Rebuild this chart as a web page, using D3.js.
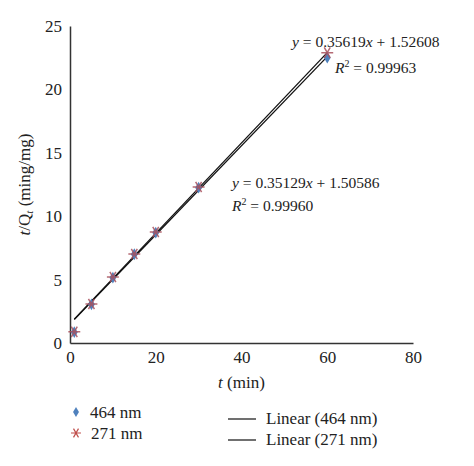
<!DOCTYPE html>
<html>
<head>
<meta charset="utf-8">
<script src="https://cdn.jsdelivr.net/npm/d3@7"></script>
<style>
  body { margin: 0; background: #fff; }
  text { font-family: "Liberation Serif", "DejaVu Serif", serif; fill: #222; }
</style>
</head>
<body>
<svg id="chart"></svg>
<script>
// data
const times = [1, 5, 10, 15, 20, 30, 60];
const nm464 = [0.85, 3.05, 5.15, 7.0, 8.7, 12.25, 22.5];
const nm271 = [0.88, 3.08, 5.2, 7.02, 8.75, 12.3, 22.9];

// linear fits as printed on the chart
const fit464 = {slope: 0.35619, intercept: 1.52608, r2: "0.99963"};
const fit271 = {slope: 0.35129, intercept: 1.50586, r2: "0.99960"};

const xTicks = [0, 20, 40, 60, 80];
const yTicks = [0, 5, 10, 15, 20, 25];

const width = 474, height = 466;
const margin = {top: 26, bottom: 123, left: 70, right: 61};

const svg = d3.select("#chart")
    .attr("width", width)
    .attr("height", height);

const x = d3.scaleLinear()
    .domain([0, 80])
    .range([margin.left, width - margin.right]);

const y = d3.scaleLinear()
    .domain([0, 25])
    .range([height - margin.bottom, margin.top]);

// axes
const xAxis = svg.append("g")
    .attr("transform", `translate(0,${height - margin.bottom})`)
    .call(d3.axisBottom(x).tickValues(xTicks).tickSize(0).tickPadding(8));
xAxis.select(".domain").attr("stroke", "#333").attr("stroke-width", 1.5);
xAxis.selectAll("text").style("font-size", "17px").attr("fill", "#222");

const yAxis = svg.append("g")
    .attr("transform", `translate(${margin.left},0)`)
    .call(d3.axisLeft(y).tickValues(yTicks).tickSize(0).tickPadding(8));
yAxis.select(".domain").attr("stroke", "#333").attr("stroke-width", 1.5);
yAxis.selectAll("text").style("font-size", "17px").attr("fill", "#222");

// axis titles
svg.append("text")
    .attr("x", x(40))
    .attr("y", 388)
    .attr("text-anchor", "middle")
    .style("font-size", "17px")
    .html('<tspan font-style="italic">t</tspan> (min)');

const yTitle = svg.append("text")
    .attr("transform", `translate(30,${y(12.5)}) rotate(-90)`)
    .attr("text-anchor", "middle")
    .style("font-size", "17px");
yTitle.append("tspan").attr("font-style", "italic").text("t");
yTitle.append("tspan").text("/Q");
yTitle.append("tspan").attr("font-style", "italic").attr("font-size", "11px").attr("dy", 3).text("t");
yTitle.append("tspan").attr("dy", -3).text(" (ming/mg)");

// trend lines over the data range
const tExtent = d3.extent(times);
const line = d3.line().x(d => x(d[0])).y(d => y(d[1]));
[fit464, fit271].forEach(f => {
    svg.append("path")
        .datum(tExtent.map(t => [t, f.slope * t + f.intercept]))
        .attr("d", line)
        .attr("fill", "none")
        .attr("stroke", "#111")
        .attr("stroke-width", 1.3);
});

// 464 nm diamonds
const diamond = d3.symbol().type(d3.symbolDiamond).size(40);
svg.selectAll(".d464")
    .data(times)
    .enter().append("path")
    .attr("class", "d464")
    .attr("transform", (d, i) => `translate(${x(d)},${y(nm464[i])})`)
    .attr("d", diamond)
    .attr("fill", "#4F81BD");

// 271 nm stars
const star = d3.symbol().type(d3.symbolAsterisk).size(100);
svg.selectAll(".d271")
    .data(times)
    .enter().append("path")
    .attr("class", "d271")
    .attr("transform", (d, i) => `translate(${x(d)},${y(nm271[i])}) rotate(30)`)
    .attr("d", star)
    .attr("fill", "none")
    .attr("stroke", "#A8505C")
    .attr("stroke-opacity", 0.85)
    .attr("stroke-width", 1.5);

// fit equations
function equation(f, xPos, yPos) {
    const t1 = svg.append("text").attr("x", xPos).attr("y", yPos).style("font-size", "15.5px");
    t1.append("tspan").attr("font-style", "italic").text("y");
    t1.append("tspan").text(` = ${f.slope.toFixed(5)}`);
    t1.append("tspan").attr("font-style", "italic").text("x");
    t1.append("tspan").text(` + ${f.intercept.toFixed(5)}`);
}
function rsq(f, xPos, yPos) {
    const t = svg.append("text").attr("x", xPos).attr("y", yPos).style("font-size", "15.5px");
    t.append("tspan").attr("font-style", "italic").text("R");
    t.append("tspan").attr("font-size", "10px").attr("dy", -6).text("2");
    t.append("tspan").attr("dy", 6).text(` = ${f.r2}`);
}
equation(fit464, 292, 47);
rsq(fit464, 335, 73);
equation(fit271, 232, 188);
rsq(fit271, 232, 211);

// legend
const legend = svg.append("g").style("font-size", "17px");
legend.append("path")
    .attr("transform", "translate(76,412)")
    .attr("d", d3.symbol().type(d3.symbolDiamond).size(30))
    .attr("fill", "#4F81BD");
legend.append("text").attr("x", 90).attr("y", 418).text("464 nm");
legend.append("path")
    .attr("transform", "translate(76,433) rotate(30)")
    .attr("d", d3.symbol().type(d3.symbolAsterisk).size(70))
    .attr("fill", "none")
    .attr("stroke", "#C0504D")
    .attr("stroke-width", 1.2);
legend.append("text").attr("x", 91).attr("y", 439).text("271 nm");

["Linear (464 nm)", "Linear (271 nm)"].forEach((label, i) => {
    const yy = 419 + i * 21;
    legend.append("line")
        .attr("x1", 228).attr("x2", 256)
        .attr("y1", yy).attr("y2", yy)
        .attr("stroke", "#222").attr("stroke-width", 1.3);
    legend.append("text").attr("x", 266).attr("y", yy + 5).text(label);
});
</script>
</body>
</html>
